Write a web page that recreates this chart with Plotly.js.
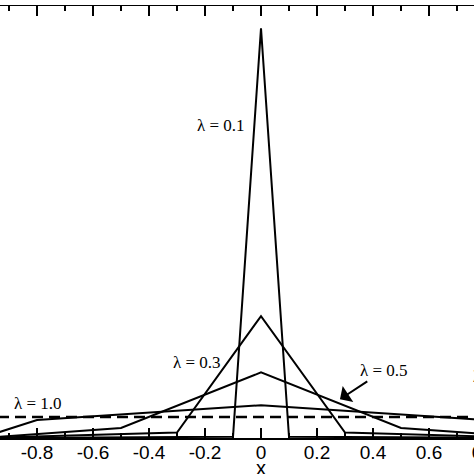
<!DOCTYPE html>
<html>
<head>
<meta charset="utf-8">
<script src="https://cdn.plot.ly/plotly-3.0.1.min.js"></script>
<style>
  html, body { margin: 0; padding: 0; width: 474px; height: 474px; overflow: hidden; background: white; }
  #plot { position: absolute; left: -79px; top: -14px; width: 640px; height: 512px; }
</style>
</head>
<body>
<div id="plot"></div>
<script>
// density for each lambda (knots at -1, -lambda, 0, lambda, 1)
const lam01X = [-1, -0.1, 0, 0.1, 1]
const lam01Y = [0, 0.03, 9.75, 0.03, 0]
const lam03X = [-1, -0.3, 0, 0.3, 1]
const lam03Y = [0, 0.13, 2.9, 0.13, 0]
const lam05X = [-1, -0.5, 0, 0.5, 1]
const lam05Y = [0, 0.24, 1.56, 0.24, 0]
const lam08X = [-1, -0.8, 0, 0.8, 1]
const lam08Y = [0, 0.43, 0.78, 0.43, 0]
const lam10X = [-1, 1]
const lam10Y = [0.5, 0.5]

const tickVals = [-1, -0.8, -0.6, -0.4, -0.2, 0, 0.2, 0.4, 0.6, 0.8, 1]
const tickText = ['-1', '-0.8', '-0.6', '-0.4', '-0.2', '0', '0.2', '0.4', '0.6', '0.8', '1']

const labels = ['λ = 0.1', 'λ = 0.3', 'λ = 0.5', 'λ = 0.8', 'λ = 1.0']
const xTitle = 'x'

const solid = { color: 'black', width: 2 }

const data = [
  { x: lam01X, y: lam01Y, mode: 'lines', line: solid },
  { x: lam03X, y: lam03Y, mode: 'lines', line: solid },
  { x: lam05X, y: lam05Y, mode: 'lines', line: solid },
  { x: lam08X, y: lam08Y, mode: 'lines', line: solid },
  { x: lam10X, y: lam10Y, mode: 'lines', line: { color: 'black', width: 2.5, dash: '11px,6px' } },
]

const serif = { family: 'Liberation Serif, Times New Roman, serif', size: 17, color: 'black' }

function label (text, x, y, extra) {
  return Object.assign({ text, x, y, xref: 'x', yref: 'y', showarrow: false, font: serif }, extra || {})
}

const annotations = [
  label(labels[0], -0.143, 7.44),
  label(labels[1], -0.227, 1.8),
  label(labels[2], 0.282, 0.92, {
    showarrow: true, ax: 44, ay: -29, arrowhead: 1, arrowsize: 1.6, arrowwidth: 2, arrowcolor: 'black',
  }),
  label(labels[3], 0.75, 1.47, { xanchor: 'left' }),
  label(labels[4], -0.798, 0.83),
  // axis title sits tight under the tick labels
  {
    text: xTitle, x: 0, xref: 'x', y: -0.07, yref: 'paper', yanchor: 'middle', showarrow: false,
    font: { family: 'Liberation Sans, Arial, sans-serif', size: 20, color: 'black' },
  },
]

const layout = {
  width: 640,
  height: 512,
  margin: { l: 60, r: 20, t: 20, b: 60 },
  paper_bgcolor: 'white',
  plot_bgcolor: 'white',
  showlegend: false,
  font: { family: 'Liberation Sans, Arial, sans-serif', color: 'black' },
  xaxis: {
    range: [-1, 1],
    tickmode: 'array',
    tickvals: tickVals,
    ticktext: tickText,
    ticks: 'inside',
    ticklen: 10,
    tickwidth: 1.5,
    tickcolor: 'black',
    minor: { dtick: 0.1, tick0: 0, ticks: 'inside', ticklen: 5, tickwidth: 1.5, tickcolor: 'black' },
    tickfont: { size: 19 },
    ticklabelstandoff: -3,
    showline: true,
    linecolor: 'black',
    linewidth: 1.5,
    mirror: 'allticks',
    showgrid: false,
    zeroline: false,
  },
  yaxis: {
    range: [0, 10.28],
    showticklabels: false,
    ticks: '',
    showline: true,
    linecolor: 'black',
    linewidth: 1.5,
    mirror: true,
    showgrid: false,
    zeroline: false,
  },
  annotations,
}

Plotly.newPlot('plot', data, layout, { displayModeBar: false, staticPlot: true })
</script>
</body>
</html>
